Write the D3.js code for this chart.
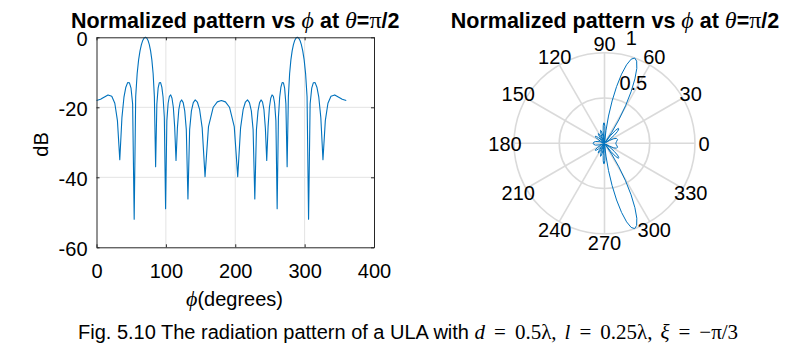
<!DOCTYPE html>
<html><head><meta charset="utf-8">
<script src="https://cdn.jsdelivr.net/npm/d3@7"></script>
<style>
body{margin:0;background:#fff;}
svg{display:block;}
text{font-family:"Liberation Sans",Arial,sans-serif;fill:#000;}
</style></head><body>
<svg id="c" width="809" height="359"></svg>
<script>
// azimuth angle (degrees) and normalized pattern (dB)
const phiDeg = [
  0, 5.85, 8.28, 16.60, 22.02, 26.39, 30.17, 33.56, 36.66, 39.57, 42.30, 44.90, 47.38, 49.77, 52.08, 54.31,
  56.49, 58.62, 60.69, 62.72, 64.72, 66.68, 68.62, 70.53, 72.42, 74.29, 76.14, 77.98, 79.80, 81.62, 83.42,
  85.22, 87.01, 88.81, 90.60, 92.39, 94.18, 95.98, 97.78, 99.59, 101.41, 103.25, 105.10, 106.96, 108.84,
  110.74, 112.67, 114.62, 116.61, 118.63, 120.69, 122.80, 124.96, 127.17, 129.45, 131.81, 134.26, 136.81,
  139.51, 142.34, 145.38, 148.67, 152.32, 156.44, 161.43, 168.29, 174.15, 180,
  185.85, 191.71, 198.57, 203.56, 207.68, 211.33, 214.62, 217.66, 220.49, 223.19, 225.74, 228.19, 230.55,
  232.83, 235.04, 237.20, 239.31, 241.37, 243.39, 245.38, 247.33, 249.26, 251.16, 253.04, 254.90, 256.75,
  258.59, 260.41, 262.22, 264.02, 265.82, 267.61, 269.40, 271.19, 272.99, 274.78, 276.58, 278.38, 280.20,
  282.02, 283.86, 285.71, 287.58, 289.47, 291.38, 293.32, 295.28, 297.28, 299.31, 301.38, 303.51, 305.69,
  307.92, 310.23, 312.62, 315.10, 317.70, 320.43, 323.34, 326.44, 329.83, 333.61, 337.98, 343.40, 351.72,
  354.15, 360
];
const gainDb = [
  -18.06, -17.71, -17.42, -16.46, -16.85, -18.84, -23.80, -35.0, -22.94, -17.12, -14.25, -12.96, -12.97, -14.54, -19.02, -52.0,
  -16.95, -10.33, -6.46, -3.87, -2.08, -0.90, -0.22, 0, -0.22, -0.90, -2.08, -3.87, -6.46, -10.33, -16.95,
  -37.0, -19.02, -14.54, -12.97, -12.96, -14.25, -17.12, -22.94, -49.0, -23.80, -18.84, -16.85, -16.46, -17.42,
  -19.98, -25.53, -35.2, -25.88, -20.69, -18.49, -17.89, -18.66, -21.03, -26.39, -46.2, -26.39, -21.03,
  -18.66, -17.89, -18.49, -20.69, -25.88, -39.8, -25.53, -19.98, -18.45, -18.06,
  -18.45, -19.98, -25.53, -39.8, -25.88, -20.69, -18.49, -17.89, -18.66, -21.03, -26.39, -46.2, -26.39,
  -21.03, -18.66, -17.89, -18.49, -20.69, -25.88, -35.2, -25.53, -19.98, -17.42, -16.46, -16.85, -18.84,
  -23.80, -49.0, -22.94, -17.12, -14.25, -12.96, -12.97, -14.54, -19.02, -37.0, -16.95, -10.33, -6.46,
  -3.87, -2.08, -0.90, -0.22, 0, -0.22, -0.90, -2.08, -3.87, -6.46, -10.33, -16.95, -52.0,
  -19.02, -14.54, -12.97, -12.96, -14.25, -17.12, -22.94, -35.0, -23.80, -18.84, -16.85, -16.46, -17.42,
  -17.71, -18.06
];
const xTicks = [0, 100, 200, 300, 400];
const yTicks = [-60, -40, -20, 0];
const polarAngleTicks = [0, 30, 60, 90, 120, 150, 180, 210, 240, 270, 300, 330];
const polarRTicks = [0.5, 1];
const titleMain = "Normalized pattern vs ";
const captionText = "Fig. 5.10 The radiation pattern of a ULA with ";

const svg = d3.select("#c");
const FS = 20;
const TFS = 21.5;
const axisColor = "#262626";
const gridColor = "#e3e3e3";
const lineColor = "#0072BD";
const serif = "'Liberation Serif', 'Times New Roman', serif";
const data = phiDeg.map((p, i) => ({phi: p, db: gainDb[i]}));

// ---------- left: cartesian dB plot ----------
const L = {x0: 96.5, x1: 374, y0: 37.3, y1: 247.3};
const x = d3.scaleLinear().domain([0, 400]).range([L.x0, L.x1]);
const y = d3.scaleLinear().domain([-60, 0]).range([L.y1, L.y0]);

const g = svg.append("g");
g.append("g").selectAll("line").data(xTicks.slice(1, -1)).join("line")
  .attr("x1", d => x(d)).attr("x2", d => x(d)).attr("y1", L.y0).attr("y2", L.y1)
  .attr("stroke", gridColor).attr("stroke-width", 1);
g.append("g").selectAll("line").data(yTicks.slice(1, -1)).join("line")
  .attr("y1", d => y(d)).attr("y2", d => y(d)).attr("x1", L.x0).attr("x2", L.x1)
  .attr("stroke", gridColor).attr("stroke-width", 1);

g.append("path").datum(data)
  .attr("fill", "none").attr("stroke", lineColor).attr("stroke-width", 1.1)
  .attr("stroke-linejoin", "round")
  .attr("d", d3.line().x(d => x(d.phi)).y(d => y(d.db)));

function styleAxis(sel) {
  sel.selectAll("path").attr("stroke", axisColor).attr("stroke-width", 1);
  sel.selectAll("line").attr("stroke", axisColor);
  sel.selectAll("text").attr("font-size", FS).attr("fill", "#000")
    .attr("font-family", "'Liberation Sans', Arial, sans-serif");
}
const xb = g.append("g").attr("transform", `translate(0,${L.y1})`)
  .call(d3.axisBottom(x).tickValues(xTicks).tickSizeInner(-3).tickSizeOuter(0).tickPadding(17).tickFormat(d3.format("d")));
styleAxis(xb);
const xt = g.append("g").attr("transform", `translate(0,${L.y0})`)
  .call(d3.axisTop(x).tickValues(xTicks).tickSizeInner(-3).tickSizeOuter(0).tickFormat(""));
styleAxis(xt);
const yl = g.append("g").attr("transform", `translate(${L.x0},0)`)
  .call(d3.axisLeft(y).tickValues(yTicks).tickSizeInner(-3).tickSizeOuter(0).tickPadding(9).tickFormat(d => String(d)));
styleAxis(yl);
yl.selectAll("text").attr("dy", "0.42em");
const yr = g.append("g").attr("transform", `translate(${L.x1},0)`)
  .call(d3.axisRight(y).tickValues(yTicks).tickSizeInner(-3).tickSizeOuter(0).tickFormat(""));
styleAxis(yr);

const xlab = g.append("text").attr("x", 234.5).attr("y", 306).attr("text-anchor", "middle").attr("font-size", FS);
xlab.append("tspan").attr("font-family", serif).attr("font-style", "italic").attr("font-size", 22).text("ϕ");
xlab.append("tspan").text("(degrees)");
g.append("text").attr("transform", "translate(47.5,144.5) rotate(-90)").attr("text-anchor", "middle")
  .attr("font-size", FS).text("dB");

function addTitle(cx) {
  const t = svg.append("text").attr("x", cx).attr("y", 28).attr("text-anchor", "middle")
    .attr("font-size", TFS).attr("font-weight", "bold");
  t.append("tspan").text(titleMain);
  t.append("tspan").attr("font-family", serif).attr("font-style", "italic").attr("font-weight", "normal").attr("font-size", 24).text("ϕ");
  t.append("tspan").text(" at ");
  t.append("tspan").attr("font-family", serif).attr("font-style", "italic").attr("font-weight", "normal").attr("font-size", 24).text("θ");
  t.append("tspan").text("=");
  t.append("tspan").attr("font-family", serif).attr("font-weight", "normal").attr("font-size", 24).text("π");
  t.append("tspan").text("/2");
}
addTitle(235.2);

// ---------- right: polar plot ----------
const P = {cx: 604.5, cy: 143.3, R: 90.5};
const r = d3.scaleLinear().domain([0, 1]).range([0, P.R]);
const pg = svg.append("g").attr("transform", `translate(${P.cx},${P.cy})`);
const polarGrid = "#dadada";
pg.selectAll("line.spoke").data(polarAngleTicks.filter(a => a < 180)).join("line")
  .attr("class", "spoke")
  .attr("x1", a => r(1) * Math.cos(a * Math.PI / 180)).attr("y1", a => -r(1) * Math.sin(a * Math.PI / 180))
  .attr("x2", a => -r(1) * Math.cos(a * Math.PI / 180)).attr("y2", a => r(1) * Math.sin(a * Math.PI / 180))
  .attr("stroke", polarGrid).attr("stroke-width", 1.6);
pg.selectAll("circle.ring").data(polarRTicks).join("circle")
  .attr("class", "ring").attr("r", d => r(d))
  .attr("fill", "none").attr("stroke", polarGrid).attr("stroke-width", 1.6);
pg.selectAll("text.ang").data(polarAngleTicks).join("text")
  .attr("class", "ang")
  .attr("x", a => 1.1 * r(1) * Math.cos(a * Math.PI / 180))
  .attr("y", a => -1.1 * r(1) * Math.sin(a * Math.PI / 180))
  .attr("dy", "0.36em").attr("text-anchor", "middle").attr("font-size", FS).text(a => a);
const c82 = Math.cos(82 * Math.PI / 180), s82 = Math.sin(82 * Math.PI / 180);
pg.selectAll("text.rt").data(polarRTicks).join("text")
  .attr("class", "rt")
  .attr("x", d => r(d + 0.05) * c82 + 8)
  .attr("y", d => -r(d + 0.05) * s82 - 4.5)
  .attr("font-size", FS).text(d => d);

const polarLine = d3.line()
  .x(d => r(Math.pow(10, d.db / 20)) * Math.cos(d.phi * Math.PI / 180))
  .y(d => -r(Math.pow(10, d.db / 20)) * Math.sin(d.phi * Math.PI / 180));
pg.append("path").datum(data)
  .attr("fill", "none").attr("stroke", lineColor).attr("stroke-width", 1)
  .attr("stroke-linejoin", "round").attr("d", polarLine);

addTitle(615);

// ---------- caption ----------
const cap = svg.append("text").attr("x", 78).attr("y", 339).attr("font-size", 20);
cap.append("tspan").text(captionText);
const m = [["d", true, 0], ["=", false, 9], ["0.5λ,", false, 9], ["l", true, 8], ["=", false, 9], ["0.25λ,", false, 9],
           ["ξ", true, 8], ["=", false, 9], ["−π/3", false, 9]];
m.forEach(([s, it, gap]) => {
  cap.append("tspan").attr("font-family", serif).attr("font-size", 21).attr("dx", gap)
    .attr("font-style", it ? "italic" : "normal").text(s);
});
</script>
</body></html>
